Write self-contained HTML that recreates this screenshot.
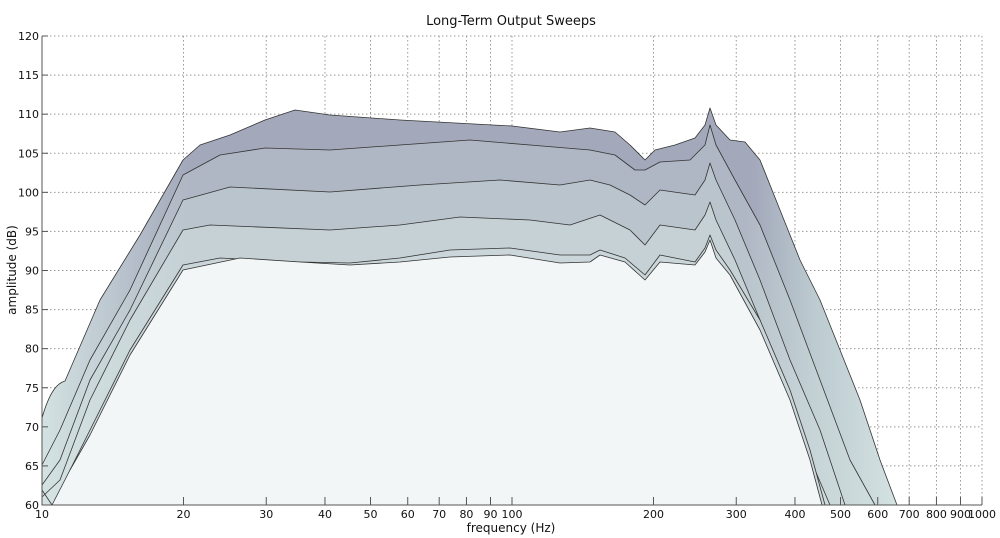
<!DOCTYPE html>
<html><head><meta charset="utf-8"><style>
html,body{margin:0;padding:0;background:#fff;}
svg{display:block;font-family:"DejaVu Sans","Liberation Sans",sans-serif;}
</style></head><body>
<svg width="1000" height="538" viewBox="0 0 1000 538" xmlns="http://www.w3.org/2000/svg">
<defs>
<linearGradient id="g1" gradientUnits="userSpaceOnUse" x1="42" y1="0" x2="900" y2="0">
<stop offset="0" stop-color="#d3e2e2"/><stop offset="0.17" stop-color="#a3a9bb"/><stop offset="0.83" stop-color="#a3a9bb"/><stop offset="0.9" stop-color="#bccbd0"/><stop offset="1" stop-color="#d5e3e3"/></linearGradient>
<linearGradient id="g2" gradientUnits="userSpaceOnUse" x1="42" y1="0" x2="900" y2="0">
<stop offset="0" stop-color="#d3e2e2"/><stop offset="0.17" stop-color="#afb7c4"/><stop offset="0.82" stop-color="#afb7c4"/><stop offset="0.9" stop-color="#c3d1d4"/><stop offset="1" stop-color="#d5e3e3"/></linearGradient>
<linearGradient id="g3" gradientUnits="userSpaceOnUse" x1="42" y1="0" x2="900" y2="0">
<stop offset="0" stop-color="#d3e2e2"/><stop offset="0.17" stop-color="#b9c4cc"/><stop offset="0.82" stop-color="#b9c4cc"/><stop offset="0.9" stop-color="#c8d5d8"/><stop offset="1" stop-color="#d5e3e3"/></linearGradient>
<linearGradient id="g4" gradientUnits="userSpaceOnUse" x1="42" y1="0" x2="900" y2="0">
<stop offset="0" stop-color="#d5e3e3"/><stop offset="0.17" stop-color="#c5d1d5"/><stop offset="0.82" stop-color="#c5d1d5"/><stop offset="1" stop-color="#d5e3e3"/></linearGradient>
</defs>
<rect width="1000" height="538" fill="#fff"/>
<g id="grid" stroke="#999" stroke-width="1" stroke-dasharray="1.5,2.5" fill="none"></g>
<g stroke="#333" stroke-width="0.8" stroke-linejoin="round">
<path fill="url(#g1)" d="M42,418 C50,390 58,383 65,381 L100,300 L140,235 L183,160 L200,145 L230,135 L265,120 L295,110 L330,115 L400,120 L512,126 L560,132 L590,128 L615,132 L630,145 L645,160 L655,150 L675,145 L695,138 L705,125 L710,108 L716,125 L730,140 L745,142 L760,160 L780,210 L800,260 L820,300 L840,350 L860,400 L880,460 L897,505 L42,505 Z"/>
<path fill="url(#g2)" d="M42,465 L60,430 L90,360 L130,290 L183,175 L220,155 L265,148 L330,150 L400,145 L470,140 L530,145 L590,150 L615,155 L635,170 L645,170 L660,162 L690,160 L705,145 L710,125 L716,145 L735,180 L760,225 L790,300 L820,380 L850,460 L875,505 L42,505 Z"/>
<path fill="url(#g3)" d="M42,485 L60,460 L90,380 L130,310 L183,200 L230,187 L330,192 L420,185 L500,180 L560,185 L590,180 L610,185 L630,195 L645,205 L660,190 L695,195 L705,180 L710,163 L716,180 L735,220 L760,280 L790,360 L820,430 L845,505 L42,505 Z"/>
<path fill="url(#g4)" d="M42,497 L60,480 L90,400 L130,320 L183,230 L210,225 L330,230 L400,225 L460,217 L530,220 L570,225 L600,215 L630,230 L645,245 L660,225 L695,230 L705,215 L710,202 L716,220 L735,260 L760,320 L790,400 L815,470 L830,505 L42,505 Z"/>
<path fill="#cad6d9" d="M55,505 L70,470 L90,430 L130,350 L183,265 L220,258 L260,260 L300,262 L350,263 L400,258 L450,250 L510,248 L560,255 L590,255 L600,250 L625,258 L645,275 L660,255 L695,262 L705,248 L710,235 L716,250 L730,270 L760,320 L790,390 L810,450 L825,505 Z"/>
<path fill="#f3f6f7" d="M52,505 L70,470 L90,435 L130,355 L183,270 L240,258 L300,262 L350,265 L400,262 L450,257 L510,255 L560,263 L590,262 L600,255 L625,262 L645,280 L660,262 L695,265 L705,252 L710,240 L716,258 L730,275 L760,330 L790,400 L810,460 L822,505 Z"/>
<path fill="none" d="M42,490 L52,505"/>
</g>
<g id="axes" stroke="#555" stroke-width="1" fill="none">
<line x1="42" y1="36" x2="42" y2="505"/>
<line x1="42" y1="505" x2="982" y2="505"/>
</g>
<g id="labels" font-size="11" fill="#111"></g>
<text x="511" y="25" font-size="13" text-anchor="middle" fill="#111">Long-Term Output Sweeps</text>
<text x="511" y="532" font-size="12" text-anchor="middle" fill="#111">frequency (Hz)</text>
<text transform="translate(16,270) rotate(-90)" font-size="12" text-anchor="middle" fill="#111">amplitude (dB)</text>
<script>
(function(){
var ns="http://www.w3.org/2000/svg",g=document.getElementById("grid"),ax=document.getElementById("axes"),lb=document.getElementById("labels");
function el(p,t,a,txt){var e=document.createElementNS(ns,t);for(var k in a)e.setAttribute(k,a[k]);if(txt)e.textContent=txt;p.appendChild(e);return e;}
for(var d=60;d<=120;d+=5){var y=505-(d-60)*469/60;
 if(d>60)el(g,"line",{x1:42,x2:982,y1:y,y2:y});
 el(ax,"line",{x1:42,x2:48,y1:y,y2:y});
 el(lb,"text",{x:39,y:y+4,"text-anchor":"end"},String(d));}
var fs=[10,20,30,40,50,60,70,80,90,100,200,300,400,500,600,700,800,900,1000];
fs.forEach(function(f){var x=42+470*Math.log10(f/10);
 if(f>10)el(g,"line",{x1:x,x2:x,y1:36,y2:505});
 el(ax,"line",{x1:x,x2:x,y1:505,y2:497});
 el(lb,"text",{x:x,y:518,"text-anchor":"middle"},String(f));});
})();
</script>
</svg>
</body></html>
